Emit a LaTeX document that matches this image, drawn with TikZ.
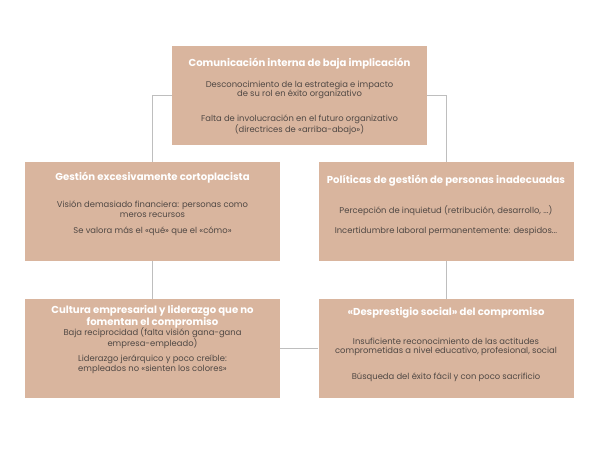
\documentclass[tikz,border=0pt]{standalone}
\usepackage{fontspec}
\setmainfont{Poppins}
\definecolor{boxfill}{RGB}{217,181,158}
\definecolor{linegray}{RGB}{190,190,190}
\definecolor{bodytext}{RGB}{80,72,68}
\begin{document}
\begin{tikzpicture}[x=1pt,y=-1pt,
  box/.style={rectangle,fill=boxfill,draw=none,inner sep=0pt,minimum width=255pt,minimum height=99pt},
  ttl/.style={text=white,font=\fontsize{10.1}{10.4}\selectfont\bfseries,align=center,inner sep=0pt},
  bodytxt/.style={text=bodytext,font=\fontsize{8.4}{9.5}\selectfont,align=center,inner sep=0pt},
  conn/.style={draw=linegray,line width=1pt}]
\path[use as bounding box,fill=white] (0,0) rectangle (600,448);
% boxes
\node[box] (top) at (299.5,95.5) {};
\node[box] (ml) at (152.5,211.5) {};
\node[box] (mr) at (446,211.5) {};
\node[box] (bl) at (152.5,348.5) {};
\node[box] (br) at (446,348.5) {};
% connectors
\draw[conn] (top.west) -| (ml.north);
\draw[conn] (top.east) -| (mr.north);
\draw[conn] (ml.south) -- (bl.north);
\draw[conn] (mr.south) -- (br.north);
\draw[conn] (bl.east) -- (br.west);
% top box text
\node[ttl] (toptitle) at (299.5,63.5) {Comunicación interna de baja implicación};
\node[bodytxt] (topa) at (299.5,90) {Desconocimiento de la estrategia e impacto\\de su rol en éxito organizativo};
\node[bodytxt] (topb) at (299.5,124.5) {Falta de involucración en el futuro organizativo\\(directrices de «arriba-abajo»)};
% middle left
\node[ttl] (mltitle) at (152.5,178) {Gestión excesivamente cortoplacista};
\node[bodytxt] (mla) at (152.5,209) {Visión demasiado financiera: personas como\\meros recursos};
\node[bodytxt] (mlb) at (152.5,231.5) {Se valora más el «qué» que el «cómo»};
% middle right
\node[ttl] (mrtitle) at (446,180.5) {Políticas de gestión de personas inadecuadas};
\node[bodytxt] (mra) at (446,211) {Percepción de inquietud (retribución, desarrollo, ...)};
\node[bodytxt] (mrb) at (446,231.5) {Incertidumbre laboral permanentemente: despidos...};
% bottom left
\node[ttl] (bltitle) at (152.5,316.5) {Cultura empresarial y liderazgo que no\\fomentan el compromiso};
\node[bodytxt] (bla) at (152.5,338.5) {Baja reciprocidad (falta visión gana-gana\\empresa-empleado)};
\node[bodytxt] (blb) at (152.5,364.5) {Liderazgo jerárquico y poco creíble:\\empleados no «sienten los colores»};
% bottom right
\node[ttl] (brtitle) at (446,313) {«Desprestigio social» del compromiso};
\node[bodytxt] (bra) at (446,347) {Insuficiente reconocimiento de las actitudes\\comprometidas a nivel educativo, profesional, social};
\node[bodytxt] (brb) at (446,377.5) {Búsqueda del éxito fácil y con poco sacrificio};
\end{tikzpicture}
\end{document}
